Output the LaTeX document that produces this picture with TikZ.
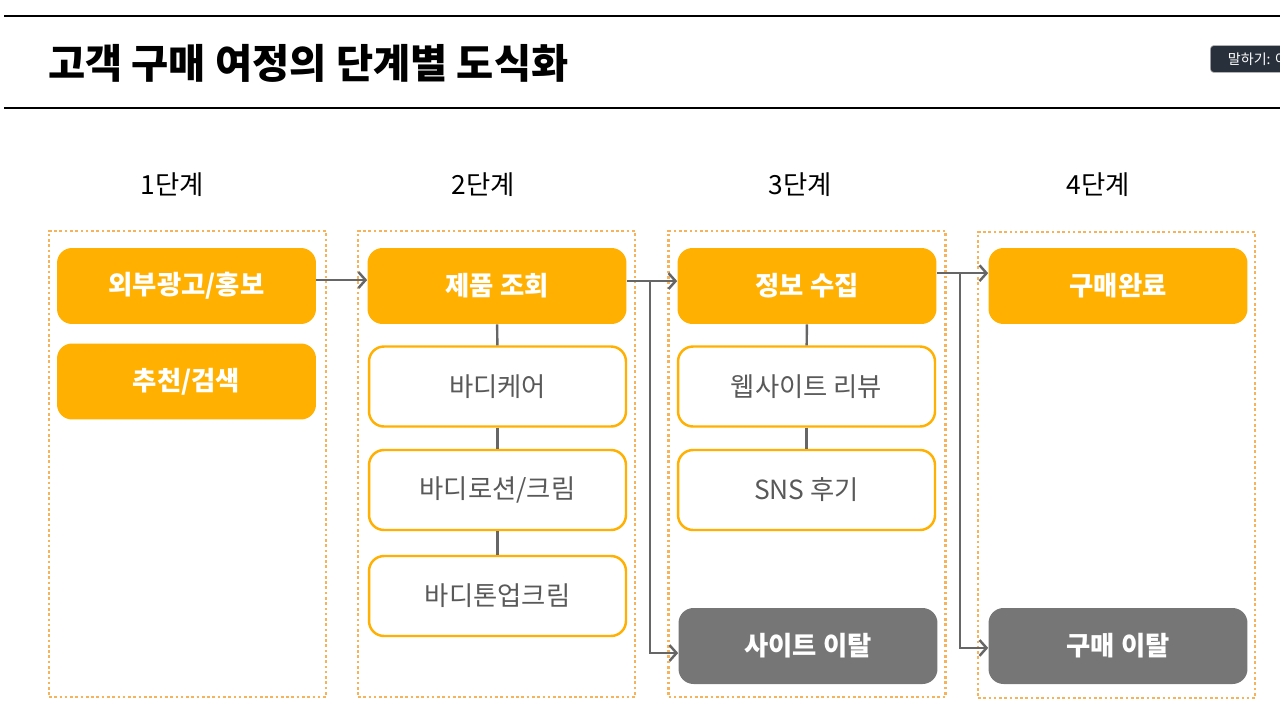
\documentclass[tikz,border=0pt]{standalone}
\usepackage{fontspec}
\setmainfont{Noto Sans CJK KR}
\usetikzlibrary{arrows.meta}

\definecolor{amber}{HTML}{FFB000}
\definecolor{dotline}{HTML}{F7B35C}
\definecolor{slate}{HTML}{767676}
\definecolor{wire}{HTML}{666666}
\definecolor{greytext}{HTML}{595959}
\definecolor{tipbg}{HTML}{28313B}

\tikzset{
  stage/.style={draw=dotline, line width=1.6pt, dash pattern=on 1.5pt off 1.5pt,
    minimum width=5.54cm, minimum height=9.32cm},
  arr/.style={draw=wire, line width=1.4pt, -{Straight Barb[length=4pt,width=9pt,line width=1.4pt]}},
  link/.style={draw=wire, line width=1.4pt}
}

\begin{document}
\begin{tikzpicture}[x=0.02cm, y=-0.02cm]
\clip (0,0) rectangle (1280,706);

% title and rules
\draw[line width=1.2pt] (4,16) -- (1280,16);
\draw[line width=1.2pt] (4,108) -- (1280,108);
\node[anchor=west, font=\fontsize{23}{27}\selectfont\bfseries] (title) at (42,63) {고객 구매 여정의 단계별 도식화};

% screen tooltip
\node[anchor=west, fill=tipbg, draw=gray!60, rounded corners=2pt, text=white,
  font=\fontsize{8}{9}\selectfont, minimum height=0.54cm, inner xsep=10pt] (tip) at (1210,59) {말하기: 이은};

% stage labels
\begin{scope}[every node/.style={font=\fontsize{15}{18}\selectfont}]
    \node (s1) at (172,185) {1단계};
    \node (s2) at (483,185) {2단계};
    \node (s3) at (800,185) {3단계};
    \node (s4) at (1098,185) {4단계};
\end{scope}

% dotted containers
\node[stage] (c1) at (187.5,464) {};
\node[stage] (c2) at (496.5,464) {};
\node[stage] (c3) at (807,464) {};
\node[stage] (c4) at (1116.5,465) {};

% main steps
\begin{scope}[every node/.style={fill=amber, rounded corners=0.3cm, text=white,
    minimum width=5.18cm, minimum height=1.52cm, font=\fontsize{15}{18}\selectfont\bfseries}]
    \node (ad) at (186.5,286) {외부광고/홍보};
    \node (rec) at (186.5,381.5) {추천/검색};
    \node (prod) at (497,286) {제품 조회};
    \node (info) at (807,286) {정보 수집};
    \node (buy) at (1118,286) {구매완료};
\end{scope}

% sub items
\begin{scope}[every node/.style={draw=amber, line width=1.4pt, fill=white, rounded corners=0.3cm,
    text=greytext, minimum width=5.14cm, minimum height=1.6cm, font=\fontsize{15}{18}\selectfont}]
    \node (care) at (497.5,386.5) {바디케어};
    \node (lotion) at (497.5,490) {바디로션/크림};
    \node (tone) at (497.5,596) {바디톤업크림};
    \node (web) at (806.5,386.5) {웹사이트 리뷰};
    \node (sns) at (806.5,490) {SNS 후기};
\end{scope}

% drop-offs
\begin{scope}[every node/.style={fill=slate, rounded corners=0.3cm, text=white,
    minimum width=5.18cm, minimum height=1.52cm, font=\fontsize{15}{18}\selectfont\bfseries}]
    \node (quit1) at (808,646) {사이트 이탈};
    \node (quit2) at (1118,646) {구매 이탈};
\end{scope}

\coordinate (b1) at (650,281);
\coordinate (b2) at (960,273);

\draw[arr] ([yshift=3.4pt]ad.east) -- ([yshift=3.4pt]prod.west);
\draw[arr] ([yshift=2.8pt]prod.east) -- ([yshift=2.8pt]info.west);
\draw[arr] (b1) |- ([yshift=-4pt]quit1.west);
\draw[arr] ([yshift=7.3pt]info.east) -- ([yshift=7.3pt]buy.west);
\draw[arr] (b2) |- ([yshift=-1.1pt]quit2.west);

\draw[link] (prod) -- (care);
\draw[link] (care) -- (lotion);
\draw[link] (lotion) -- (tone);
\draw[link] (info) -- (web);
\draw[link] (web) -- (sns);
\end{tikzpicture}
\end{document}
